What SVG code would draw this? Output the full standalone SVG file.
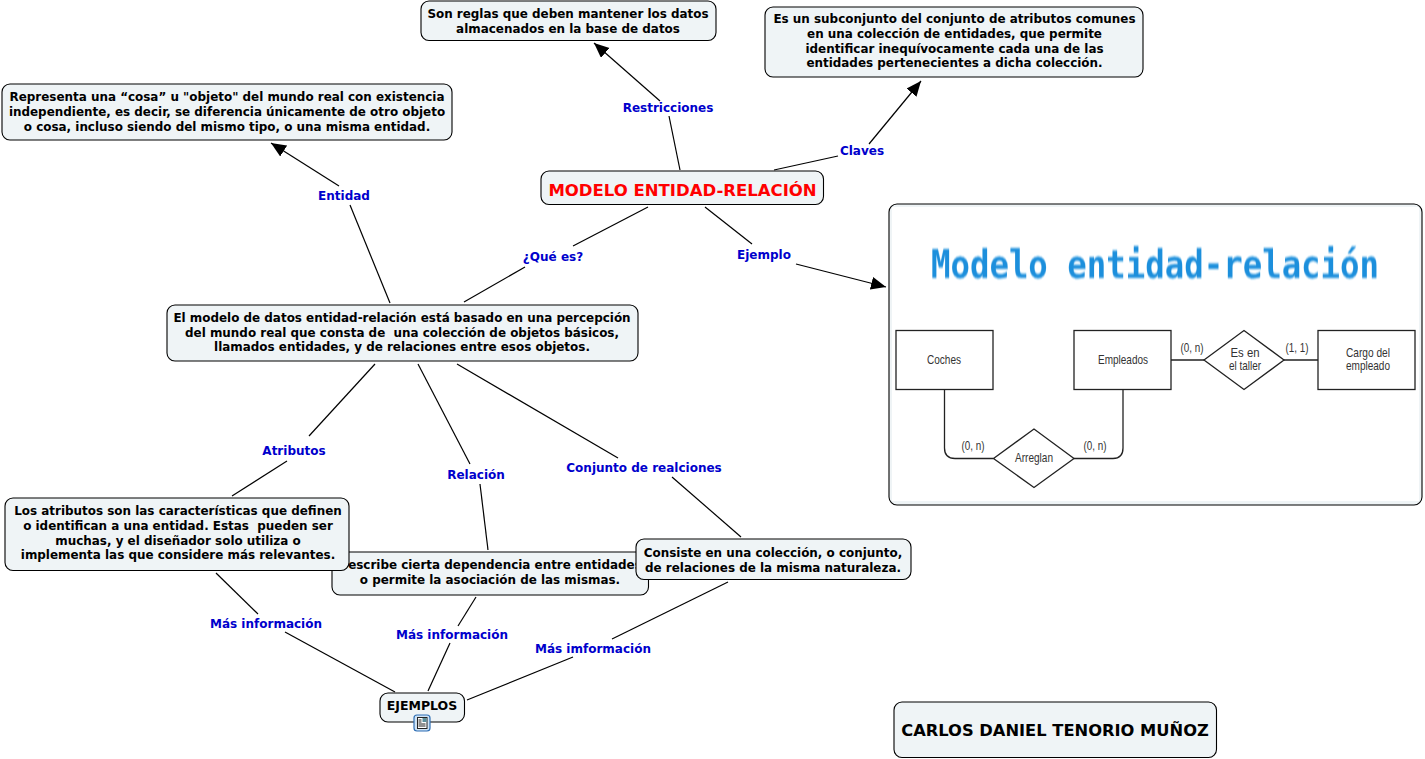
<svg xmlns="http://www.w3.org/2000/svg" width="1425" height="759" viewBox="0 0 1425 759">
<style>
.n{fill:#eff4f6;stroke:#000;stroke-width:1.1}
.t{font:bold 11.950px "DejaVu Sans",Verdana,sans-serif;fill:#000;text-anchor:middle;white-space:pre}
.l{font:bold 12px "DejaVu Sans",Verdana,sans-serif;fill:#0000cc;text-anchor:middle}
.c{fill:none;stroke:#000;stroke-width:1.2}
.er{fill:#fff;stroke:#222;stroke-width:1.3}
.e{font:13px "Liberation Sans",Arial,sans-serif;fill:#333;text-anchor:middle}
</style>
<defs><marker id="a" markerUnits="userSpaceOnUse" markerWidth="16" markerHeight="14" refX="15" refY="6.500" orient="auto"><path d="M0 0L15 6.500L0 13Z" fill="#000"/></marker>
<filter id="b" x="-5%" y="-30%" width="110%" height="160%"><feGaussianBlur stdDeviation="0.8"/></filter></defs>
<rect width="1425" height="759" fill="#fff"/>
<g id="connectors">
<path class="c" d="M680 170L669 116"/><path class="c" d="M660 101L594 43" marker-end="url(#a)"/>
<path class="c" d="M774 170L838 156"/><path class="c" d="M869 144L921 81" marker-end="url(#a)"/>
<path class="c" d="M648 207L573 246"/><path class="c" d="M525 267L464 302"/>
<path class="c" d="M705 207L752 244"/><path class="c" d="M796 264L886 287" marker-end="url(#a)"/>
<path class="c" d="M390 303L350 205"/><path class="c" d="M339 186L271 143" marker-end="url(#a)"/>
<path class="c" d="M375 364L309 436"/><path class="c" d="M287 461L232 496"/>
<path class="c" d="M418 364L470 464"/><path class="c" d="M480 484L488 550"/>
<path class="c" d="M457 364L618 458"/><path class="c" d="M672 477L741 537"/>
<path class="c" d="M216 573L258 614"/><path class="c" d="M285 632L395 692"/>
<path class="c" d="M476 597L458 626"/><path class="c" d="M450 643L428 691"/>
<path class="c" d="M728 582L612 639"/><path class="c" d="M573 657L467 700"/>
</g>
<g id="labels">
<text class="l" x="668" y="112">Restricciones</text>
<text class="l" x="862" y="155">Claves</text>
<text class="l" x="553" y="261">¿Qué es?</text>
<text class="l" x="764" y="259">Ejemplo</text>
<text class="l" x="344" y="200">Entidad</text>
<text class="l" x="294" y="455">Atributos</text>
<text class="l" x="476" y="479">Relación</text>
<text class="l" x="644" y="472">Conjunto de realciones</text>
<text class="l" x="266" y="628">Más información</text>
<text class="l" x="452" y="639">Más información</text>
<text class="l" x="593" y="653">Más imformación</text>
</g>
<g id="restricciones"><rect class="n" x="421" y="1" width="295" height="39.500" rx="8"/>
<text class="t" x="568" y="18">Son reglas que deben mantener los datos</text><text class="t" x="568" y="33">almacenados en la base de datos</text></g>
<g id="claves"><rect class="n" x="765" y="7" width="378" height="70" rx="8"/>
<text class="t" x="954.500" y="23">Es un subconjunto del conjunto de atributos comunes</text><text class="t" x="954.500" y="38">en una colección de entidades, que permite</text><text class="t" x="954.500" y="53">identificar inequívocamente cada una de las</text><text class="t" x="954.500" y="67">entidades pertenecientes a dicha colección.</text></g>
<g id="entidad"><rect class="n" x="2" y="84" width="450" height="56" rx="8"/>
<text class="t" x="227" y="101">Representa una “cosa” u "objeto" del mundo real con existencia</text><text class="t" x="227" y="116">independiente, es decir, se diferencia únicamente de otro objeto</text><text class="t" x="227" y="131">o cosa, incluso siendo del mismo tipo, o una misma entidad.</text></g>
<g id="titulo"><rect class="n" x="541" y="171" width="282.500" height="33.500" rx="8"/>
<text x="682.500" y="196" style="font:bold 16.500px 'DejaVu Sans',Verdana,sans-serif;fill:#f00;text-anchor:middle">MODELO ENTIDAD-RELACIÓN</text></g>
<g id="definicion"><rect class="n" x="167" y="305" width="471" height="56" rx="8"/>
<text class="t" x="402" y="322">El modelo de datos entidad-relación está basado en una percepción</text><text class="t" x="402" y="337">del mundo real que consta de  una colección de objetos básicos,</text><text class="t" x="402" y="351">llamados entidades, y de relaciones entre esos objetos.</text></g>
<g id="relacion"><rect class="n" x="332" y="552" width="316.500" height="43" rx="8"/>
<text class="t" x="490" y="569">Describe cierta dependencia entre entidades</text><text class="t" x="490" y="584">o permite la asociación de las mismas.</text></g>
<g id="atributos"><rect class="n" x="5" y="498" width="344" height="72.500" rx="8"/>
<text class="t" x="178" y="515">Los atributos son las características que definen</text><text class="t" x="178" y="530">o identifican a una entidad. Estas  pueden ser</text><text class="t" x="178" y="545">muchas, y el diseñador solo utiliza o</text><text class="t" x="178" y="559">implementa las que considere más relevantes.</text></g>
<g id="conjunto"><rect class="n" x="636" y="539" width="275" height="40.500" rx="8"/>
<text class="t" x="773" y="557">Consiste en una colección, o conjunto,</text><text class="t" x="773" y="572">de relaciones de la misma naturaleza.</text></g>
<g id="ejemplos"><rect class="n" x="380" y="693" width="84.500" height="29" rx="8"/>
<text x="422" y="710" style="font:bold 12.500px 'DejaVu Sans',Verdana,sans-serif;fill:#000;text-anchor:middle">EJEMPLOS</text>
<rect x="414" y="715" width="16" height="16" rx="3" fill="#cfe3f5" stroke="#2f6fb5" stroke-width="1.200"/><rect x="417.500" y="717.500" width="9.500" height="11" fill="#fff" stroke="#222"/><rect x="422.500" y="718" width="4" height="4" fill="#5b8f9c"/><path d="M418.500 720h3M418.500 722h3M418.500 724h7M418.500 726h7" stroke="#222"/></g>
<g id="autor"><rect class="n" x="894" y="702" width="322.500" height="55.500" rx="8"/>
<text x="1055" y="736" style="font:bold 16.300px 'DejaVu Sans',Verdana,sans-serif;fill:#000;text-anchor:middle">CARLOS DANIEL TENORIO MUÑOZ</text></g>
<g id="imagen"><rect class="n" x="889" y="204" width="533" height="301" rx="8"/>
<rect x="892" y="207" width="527" height="294" fill="#fff"/>
<text transform="translate(1155 278) scale(.83 1)" filter="url(#b)" style="font:bold 39px 'DejaVu Sans Mono',monospace;fill:#1c8fdc;text-anchor:middle">Modelo entidad-relación</text>
<rect class="er" x="896" y="330.500" width="97" height="59"/><rect class="er" x="1074" y="330.500" width="97" height="59"/><rect class="er" x="1318" y="330.500" width="97" height="59"/>
<path class="er" d="M1204 360L1244 330.500L1284 360L1244 389.500Z"/><path class="er" d="M993.500 458.500L1034 429L1074 458.500L1034 487.500Z"/>
<path class="c" style="stroke:#222;stroke-width:1.300" d="M1171 360H1204M1284 360H1318M944.500 389.500V448Q944.500 458.500 955 458.500H993.500M1074 458.500H1113Q1123 458.500 1123 448V389.500"/>
<text class="e" x="944" y="364" textLength="34" lengthAdjust="spacingAndGlyphs">Coches</text><text class="e" x="1123" y="364" textLength="50" lengthAdjust="spacingAndGlyphs">Empleados</text>
<text class="e" x="1245" y="357" textLength="29" lengthAdjust="spacingAndGlyphs">Es en</text><text class="e" x="1245" y="370" textLength="32" lengthAdjust="spacingAndGlyphs">el taller</text>
<text class="e" x="1368" y="357" textLength="44" lengthAdjust="spacingAndGlyphs">Cargo del</text><text class="e" x="1368" y="370" textLength="44" lengthAdjust="spacingAndGlyphs">empleado</text>
<text class="e" x="1034" y="462" textLength="38" lengthAdjust="spacingAndGlyphs">Arreglan</text>
<text class="e" x="1192" y="352" textLength="23" lengthAdjust="spacingAndGlyphs">(0, n)</text><text class="e" x="1297" y="352" textLength="23" lengthAdjust="spacingAndGlyphs">(1, 1)</text><text class="e" x="973" y="450" textLength="23" lengthAdjust="spacingAndGlyphs">(0, n)</text><text class="e" x="1095" y="450" textLength="23" lengthAdjust="spacingAndGlyphs">(0, n)</text></g>
</svg>
